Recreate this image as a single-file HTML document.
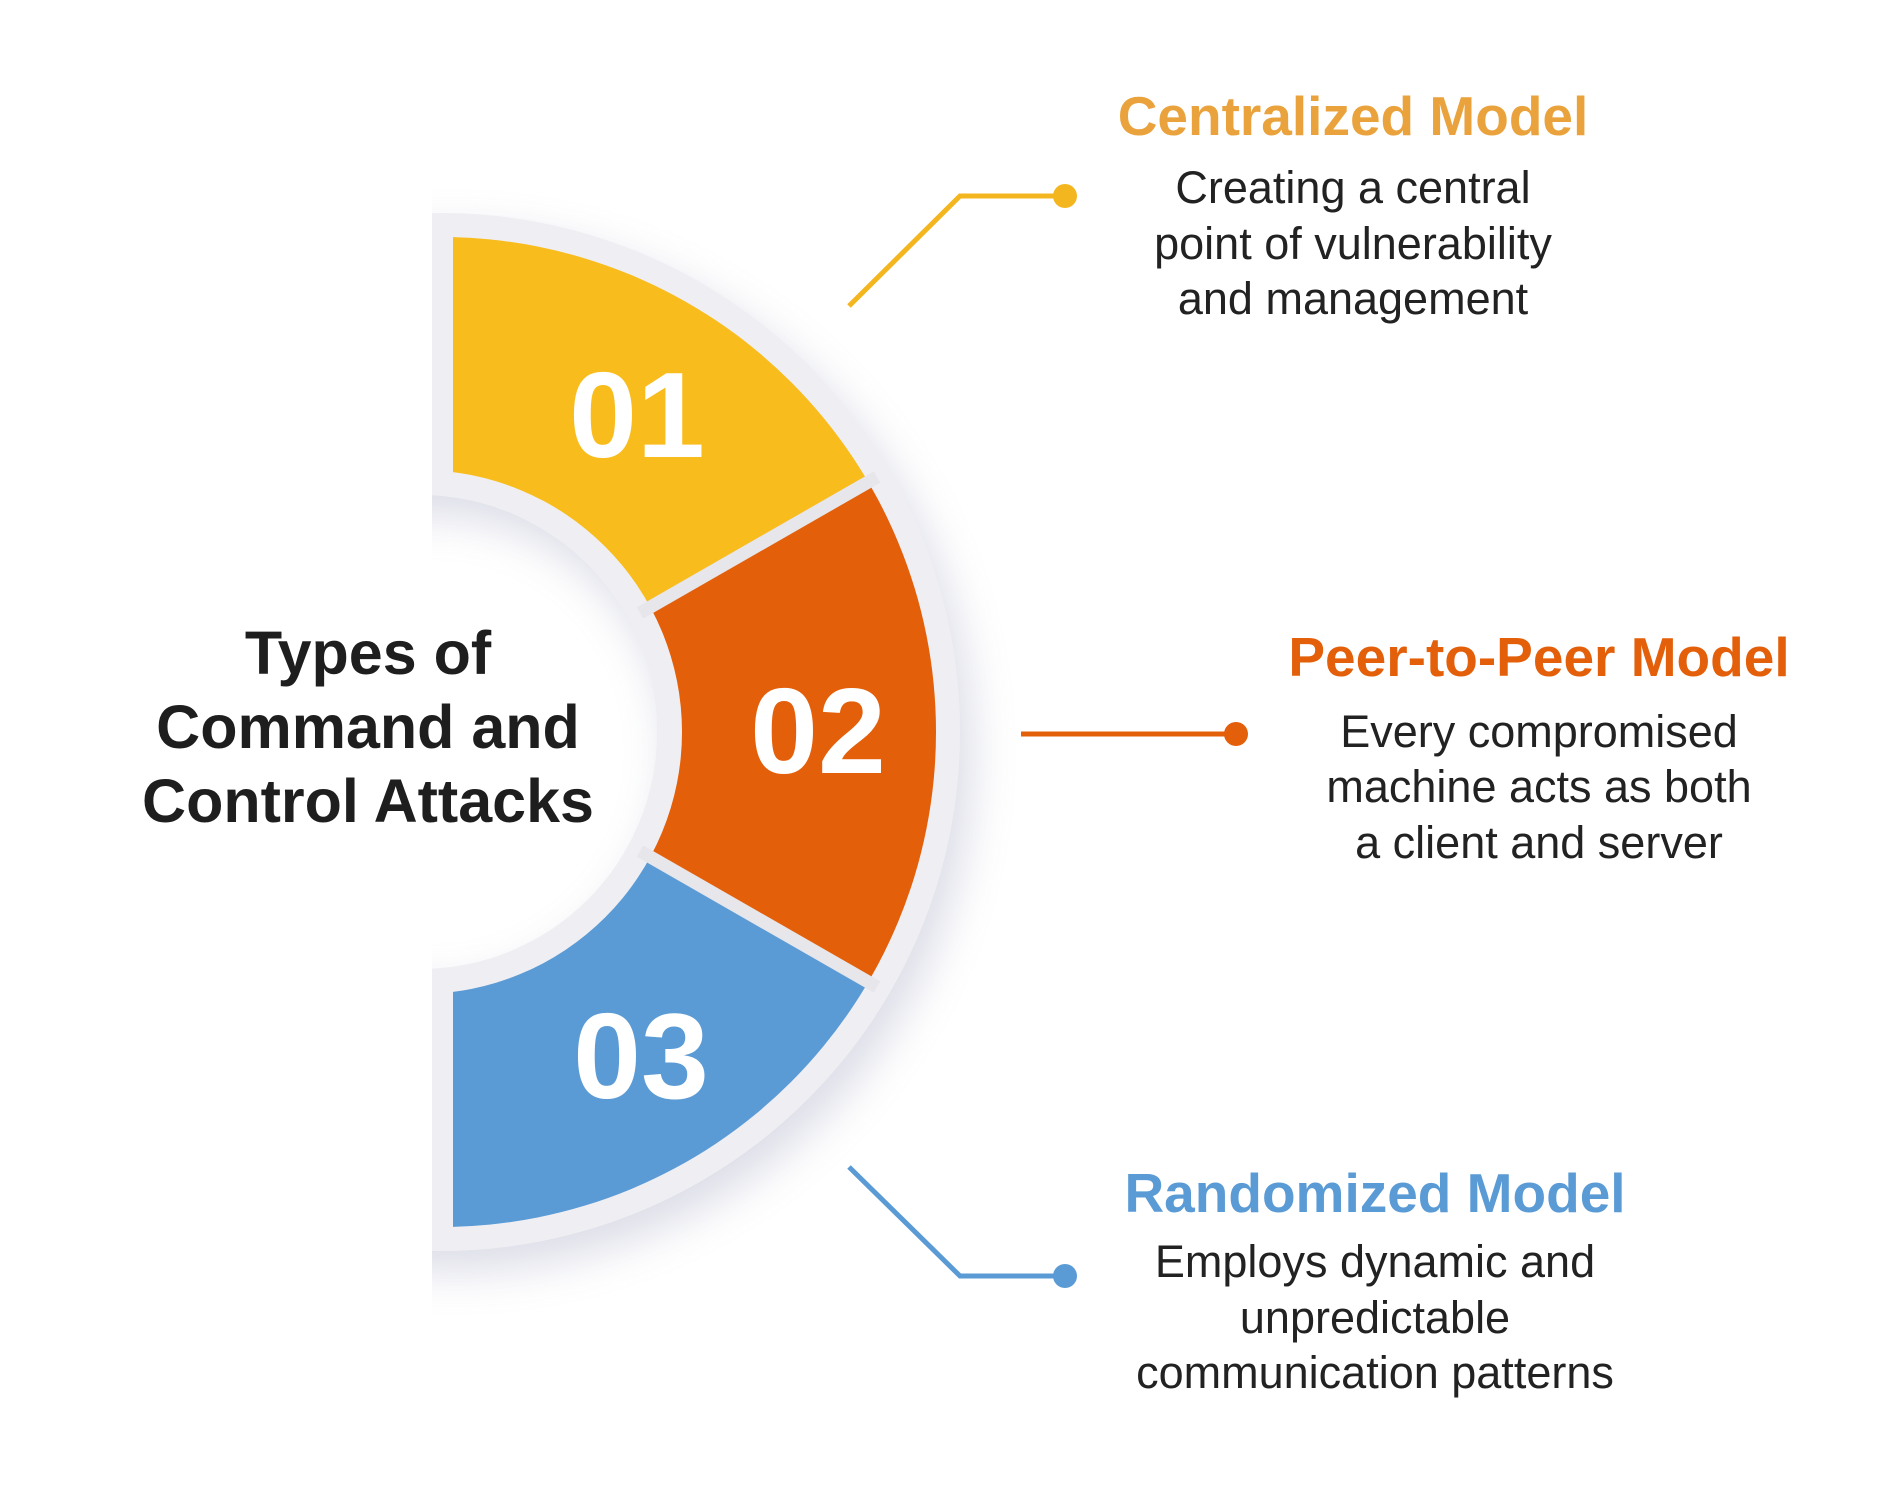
<!DOCTYPE html>
<html><head><meta charset="utf-8"><style>
html,body{margin:0;padding:0;background:#fff;}
svg{display:block;font-family:"Liberation Sans",Arial,sans-serif;}
</style></head><body>
<svg width="1894" height="1500" viewBox="0 0 1894 1500" xmlns="http://www.w3.org/2000/svg">
<defs>
<filter id="sh" x="-30%" y="-30%" width="160%" height="160%"><feGaussianBlur stdDeviation="22"/></filter>
<clipPath id="right"><rect x="432" y="0" width="1000" height="1500"/></clipPath>
<clipPath id="rightc"><rect x="453" y="0" width="1000" height="1500"/></clipPath>
<clipPath id="c1"><polygon points="435,732 1435,155 1435,0 453,0"/></clipPath>
<clipPath id="c2"><polygon points="435,732 1435,155 1435,1309"/></clipPath>
<clipPath id="c3"><polygon points="435,732 1435,1309 1435,1500 453,1500"/></clipPath>
</defs>
<g clip-path="url(#right)" opacity="0.3">
<path fill-rule="evenodd" fill="#8a8fb0" filter="url(#sh)" transform="translate(12,20)" d="M441,213 a519,519 0 1,1 0,1038 a519,519 0 1,1 0,-1038 Z M420,495 a237,237 0 1,0 0,474 a237,237 0 1,0 0,-474 Z"/>
</g>
<g clip-path="url(#right)">
<path fill-rule="evenodd" fill="#efeff3" d="M441,213 a519,519 0 1,1 0,1038 a519,519 0 1,1 0,-1038 Z M420,495 a237,237 0 1,0 0,474 a237,237 0 1,0 0,-474 Z"/>
</g>
<g clip-path="url(#rightc)">
<g clip-path="url(#c1)"><path fill-rule="evenodd" fill="#F8BC1C" d="M441,237 a495,495 0 1,1 0,990 a495,495 0 1,1 0,-990 Z M420,470 a262,262 0 1,0 0,524 a262,262 0 1,0 0,-524 Z"/></g>
<g clip-path="url(#c2)"><path fill-rule="evenodd" fill="#E35F0A" d="M441,237 a495,495 0 1,1 0,990 a495,495 0 1,1 0,-990 Z M420,470 a262,262 0 1,0 0,524 a262,262 0 1,0 0,-524 Z"/></g>
<g clip-path="url(#c3)"><path fill-rule="evenodd" fill="#5B9BD5" d="M441,237 a495,495 0 1,1 0,990 a495,495 0 1,1 0,-990 Z M420,470 a262,262 0 1,0 0,524 a262,262 0 1,0 0,-524 Z"/></g>
</g>
<line x1="640" y1="613" x2="877" y2="477" stroke="#e6e6eb" stroke-width="13"/>
<line x1="640" y1="851" x2="877" y2="987" stroke="#e6e6eb" stroke-width="13"/>
<g fill="#fff" font-weight="bold" font-size="122" text-anchor="middle">
<text x="637" y="457">01</text>
<text x="818" y="773">02</text>
<text x="641" y="1098">03</text>
</g>
<g fill="#1e1e1e" font-weight="bold" font-size="61" text-anchor="middle">
<text x="368" y="674">Types of</text>
<text x="368" y="748">Command and</text>
<text x="368" y="822">Control Attacks</text>
</g>
<polyline points="849,306 960,196 1065,196" fill="none" stroke="#F3B61F" stroke-width="5"/>
<circle cx="1065" cy="196" r="12" fill="#F3B61F"/>
<line x1="1021" y1="734" x2="1236" y2="734" stroke="#E35F0A" stroke-width="5"/>
<circle cx="1236" cy="734" r="12" fill="#E35F0A"/>
<polyline points="849,1167 960,1276 1065,1276" fill="none" stroke="#5B9BD5" stroke-width="5"/>
<circle cx="1065" cy="1276" r="12" fill="#5B9BD5"/>
<g text-anchor="middle">
<text x="1353" y="135" font-size="55" font-weight="bold" fill="#EAA33C">Centralized Model</text>
<g font-size="45" fill="#222"><text x="1353" y="203">Creating a central</text><text x="1353" y="259">point of vulnerability</text><text x="1353" y="314">and management</text></g>
<text x="1539" y="676" font-size="55" font-weight="bold" fill="#E35F0A">Peer-to-Peer Model</text>
<g font-size="45" fill="#222"><text x="1539" y="747">Every compromised</text><text x="1539" y="802">machine acts as both</text><text x="1539" y="858">a client and server</text></g>
<text x="1375" y="1212" font-size="55" font-weight="bold" fill="#5B9BD5">Randomized Model</text>
<g font-size="45" fill="#222"><text x="1375" y="1277">Employs dynamic and</text><text x="1375" y="1333">unpredictable</text><text x="1375" y="1388">communication patterns</text></g>
</g>
</svg>
</body></html>
